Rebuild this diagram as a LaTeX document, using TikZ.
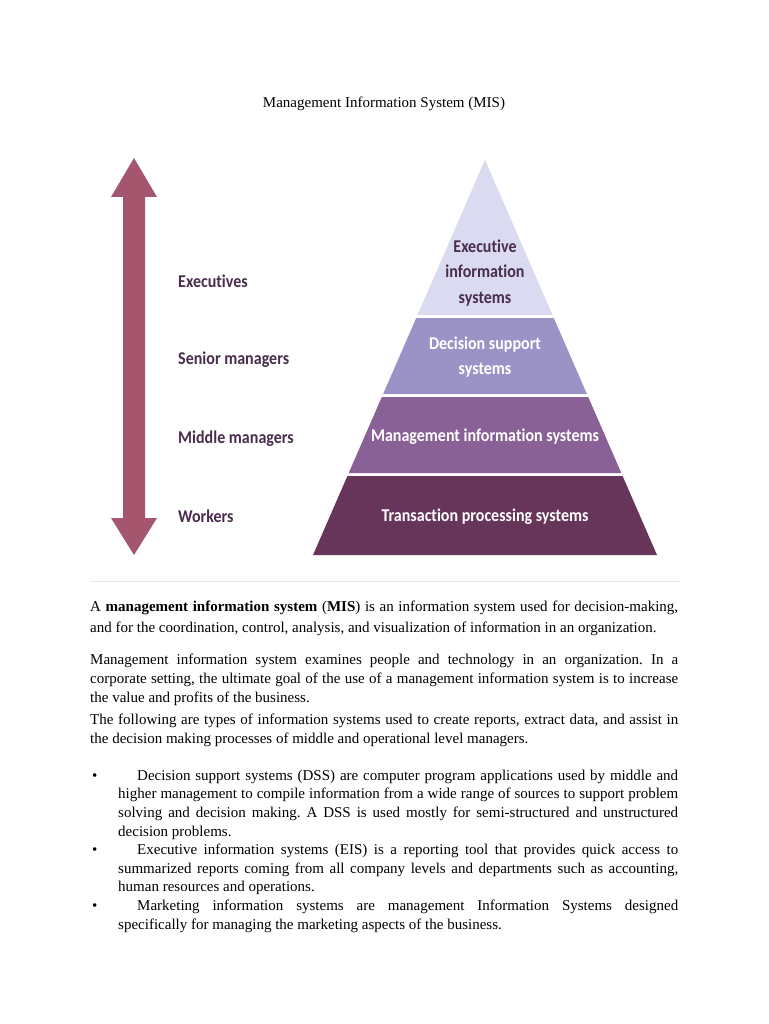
\documentclass[tikz,border=0pt]{standalone}
\usepackage{fontspec}
\setmainfont{Liberation Serif}
\newfontfamily\calibri[FakeStretch=0.89, Ligatures=NoCommon, Contextuals=NoAlternate]{Carlito}
\usetikzlibrary{positioning}
\definecolor{misarrow}{HTML}{A3566E}
\definecolor{misdark}{HTML}{4A2D4D}
\definecolor{tierone}{HTML}{DADAF0}
\definecolor{tiertwo}{HTML}{9B93C6}
\definecolor{tierthree}{HTML}{8A6197}
\definecolor{tierfour}{HTML}{663559}
\definecolor{rulegray}{HTML}{E3E8EC}
\frenchspacing

\begin{document}
\begin{tikzpicture}[x=1pt, y=-1pt,
    role/.style={anchor=base west, inner sep=0pt, text=misdark, font=\calibri\bfseries\fontsize{18}{19}\selectfont},
    tiertext/.style={align=center, inner sep=0pt, font=\calibri\bfseries\fontsize{18}{25.5}\selectfont},
    para/.style={anchor=north west, inner sep=0pt, text width=588pt, align=justify},
]
\useasboundingbox[fill=white] (0,0) rectangle (768,1024);

% Title
\node[anchor=base, inner sep=0pt, font=\fontsize{15}{18}\selectfont] (title) at (384,108) {Management Information System (MIS)};

% Up-down arrow
\fill[misarrow] (134,158) -- (157,197) -- (145,197) -- (145,518) -- (157,518) -- (134,555)
  -- (111,518) -- (123,518) -- (123,197) -- (111,197) -- cycle;

% Roles
\node[role] (execs) at (178,287) {Executives};
\node[role] (senior) at (178,364) {Senior managers};
\node[role] (middle) at (178,443) {Middle managers};
\node[role] (workers) at (178,522) {Workers};

% Pyramid tiers
\fill[tierone] (485,160) -- (552.5,315) -- (417.5,315) -- cycle;
\fill[tiertwo] (416.2,318) -- (553.8,318) -- (586.9,394) -- (383.1,394) -- cycle;
\fill[tierthree] (381.8,397) -- (588.2,397) -- (621.3,473) -- (348.7,473) -- cycle;
\fill[tierfour] (347.4,476) -- (622.6,476) -- (657,555) -- (313,555) -- cycle;

\node[tiertext, text=misdark] (eis) at (485,273) {Executive\\information\\systems};
\node[tiertext, text=white] (dss) at (485,357) {Decision support\\systems};
\node[tiertext, text=white] (mis) at (485,437) {Management information systems};
\node[tiertext, text=white] (tps) at (485,517) {Transaction processing systems};

% Rule
\draw[rulegray, line width=1pt] (90,581) -- (680,581);

% Text
\node[para, font=\fontsize{15}{21}\selectfont] (intro) at (90,599) {\rule{0pt}{12pt}A \textbf{management information system} (\textbf{MIS}) is an information system used for decision-making,\linebreak and for the coordination, control, analysis, and visualization of information in an organization.};

\node[para, font=\fontsize{15}{19}\selectfont] (examines) at (90,652) {\rule{0pt}{12pt}Management information system examines people and technology in an organization. In a\linebreak corporate setting, the ultimate goal of the use of a management information system is to increase\linebreak the value and profits of the business.};

\node[para, font=\fontsize{15}{19}\selectfont] (types) at (90,712) {\rule{0pt}{12pt}The following are types of information systems used to create reports, extract data, and assist in\linebreak the decision making processes of middle and operational level managers.};

\node[para, text width=560pt, font=\fontsize{15}{18.6}\selectfont] (items) at (118,768) {%
\noindent\rule{0pt}{12pt}\llap{\makebox[26pt][l]{\textbullet}}\hspace*{19pt}Decision support systems (DSS) are computer program applications used by middle and\linebreak higher management to compile information from a wide range of sources to support problem\linebreak solving and decision making. A DSS is used mostly for semi-structured and unstructured\linebreak decision problems.\par
\noindent\llap{\makebox[26pt][l]{\textbullet}}\hspace*{19pt}Executive information systems (EIS) is a reporting tool that provides quick access to\linebreak summarized reports coming from all company levels and departments such as accounting,\linebreak human resources and operations.\par
\noindent\llap{\makebox[26pt][l]{\textbullet}}\hspace*{19pt}Marketing information systems are management Information Systems designed\linebreak specifically for managing the marketing aspects of the business.};
\end{tikzpicture}
\end{document}
